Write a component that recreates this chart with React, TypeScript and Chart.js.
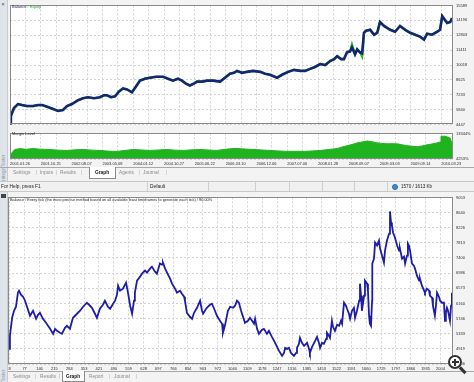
import React, { useEffect, useRef } from "react";
import { Chart, registerables } from "chart.js";
Chart.register(...registerables);

const FONT = "'Liberation Sans', Arial, sans-serif";

// ---------- top (MT5) balance / equity ----------
const topDates = ["2001.01.26", "2001.10.25", "2002.08.07", "2003.05.08", "2004.01.12", "2004.10.27", "2005.06.22", "2006.03.10", "2006.12.06", "2007.07.06", "2008.01.28", "2008.09.07", "2009.03.03", "2009.09.14", "2010.03.23"];
const topDateDeals = [0, 100, 200, 300, 400, 500, 600, 700, 800, 900, 1000, 1100, 1200, 1300, 1400];
const topGridDeals = [0, 50, 100, 150, 200, 250, 300, 350, 400, 450, 500, 550, 600, 650, 700, 750, 800, 850, 900, 950, 1000, 1050, 1100, 1150, 1200, 1250, 1300, 1350, 1400];
const topYTicks = [4447, 5840, 7233, 8625, 10018, 11411, 12803, 14196, 15589];
const topDeal = [0, 3, 13, 26, 39, 55, 75, 91, 104, 123, 140, 156, 172, 185, 201, 221, 237, 253, 273, 292, 305, 315, 328, 341, 354, 367, 380, 396, 409, 422, 438, 455, 474, 497, 513, 529, 545, 558, 571, 584, 597, 607, 623, 640, 659, 682, 698, 714, 727, 737, 753, 769, 789, 812, 828, 844, 867, 883, 903, 922, 942, 958, 974, 990, 1007, 1023, 1039, 1052, 1062, 1075, 1084, 1094, 1104, 1110, 1120, 1127, 1136, 1143, 1149, 1156, 1169, 1182, 1192, 1201, 1214, 1234, 1250, 1266, 1283, 1299, 1315, 1331, 1344, 1354, 1370, 1386, 1396, 1403, 1412, 1419, 1429, 1435];
const topBalance = [4447, 5269, 5999, 6365, 6274, 6182, 6182, 6274, 6274, 6091, 5908, 5726, 5817, 6182, 6365, 6730, 6913, 7004, 6913, 7004, 7187, 7187, 7004, 7096, 7552, 7826, 7735, 7461, 8009, 8557, 8740, 8831, 8922, 8922, 8740, 8557, 8740, 8557, 8283, 8100, 8283, 8465, 8465, 8557, 8557, 8465, 8831, 9196, 9287, 9470, 9287, 9378, 9470, 9378, 9196, 9105, 8831, 9105, 9378, 9561, 9470, 9470, 9653, 9835, 10109, 10018, 10383, 10566, 10840, 10566, 10566, 11205, 11297, 11662, 11023, 11480, 11205, 11114, 13032, 13215, 13306, 12849, 13032, 14037, 13672, 13306, 13123, 13672, 13306, 13032, 12849, 12667, 12393, 12941, 12849, 13123, 13306, 14584, 14219, 13945, 14037, 14402];
const topEquity = [4447, 5269, 5999, 6365, 6274, 6182, 6182, 6274, 6274, 6091, 5908, 5726, 5817, 6182, 6365, 6730, 6913, 7004, 6913, 7004, 7187, 7187, 7004, 7096, 7552, 7826, 7735, 7461, 8009, 8557, 8740, 8831, 8922, 8922, 8740, 8557, 8740, 8557, 8283, 8100, 8283, 8465, 8465, 8557, 8557, 8465, 8831, 9196, 9287, 9470, 9287, 9378, 9470, 9378, 9196, 9105, 8831, 9105, 9378, 9561, 9470, 9470, 9653, 9835, 10109, 10018, 10383, 10566, 10840, 10566, 10566, 11205, 11297, 11950, 11023, 11480, 11205, 10800, 13032, 13215, 13306, 12849, 13032, 14037, 13672, 13306, 13123, 13672, 13306, 13032, 12849, 12667, 12393, 12941, 12849, 13123, 13306, 14584, 14219, 13945, 14037, 14402];

// ---------- margin level ----------
const marginDeal = [0, 10, 16, 32, 52, 75, 97, 130, 156, 185, 211, 237, 266, 292, 318, 347, 373, 399, 429, 455, 481, 510, 536, 562, 591, 617, 643, 672, 698, 724, 737, 763, 792, 818, 844, 873, 899, 925, 955, 981, 1007, 1033, 1062, 1078, 1094, 1110, 1127, 1143, 1159, 1175, 1192, 1208, 1224, 1240, 1257, 1273, 1289, 1305, 1322, 1338, 1354, 1370, 1386, 1396, 1399, 1412, 1422, 1429, 1435];
const marginLevel = [5600, 7000, 7620, 7957, 7700, 7957, 7750, 7620, 7400, 7283, 7500, 7620, 7400, 7283, 7050, 6947, 7300, 7620, 7450, 7283, 7450, 7620, 7400, 7283, 7500, 7620, 7450, 7283, 7700, 7957, 7957, 7800, 7620, 7450, 7283, 7100, 6947, 7000, 6947, 7100, 7283, 7600, 7957, 8500, 8967, 9400, 9977, 10300, 10650, 10400, 9977, 9800, 9640, 9700, 9640, 9300, 8967, 8800, 8630, 8900, 9303, 9600, 9977, 10300, 12334, 12334, 12000, 11660, 9640];
const marginYTicks = [4253, 13344];

// ---------- bottom (MT4) balance ----------
const bottomXTicks = [8, 77, 146, 215, 284, 353, 421, 490, 559, 628, 697, 766, 834, 903, 972, 1040, 1109, 1178, 1247, 1316, 1385, 1453, 1522, 1591, 1660, 1729, 1797, 1866, 1935, 2004];
const bottomYTicks = [4506, 4919, 5333, 5746, 6160, 6573, 6986, 7400, 7813, 8226, 8640, 9053];
const bottomTrades = [5, 9, 19, 28, 37, 46, 51, 60, 70, 79, 88, 102, 116, 130, 139, 148, 162, 176, 195, 209, 218, 227, 241, 250, 264, 273, 287, 301, 315, 334, 348, 366, 380, 389, 403, 412, 426, 440, 449, 463, 473, 487, 496, 505, 510, 519, 533, 542, 547, 556, 566, 575, 584, 588, 598, 612, 621, 635, 644, 658, 667, 681, 690, 704, 714, 718, 728, 737, 751, 760, 774, 783, 797, 806, 816, 820, 829, 843, 853, 862, 876, 890, 899, 904, 918, 927, 936, 945, 959, 968, 982, 992, 996, 1005, 1019, 1029, 1043, 1052, 1061, 1070, 1080, 1089, 1098, 1112, 1121, 1131, 1140, 1145, 1154, 1163, 1177, 1186, 1200, 1209, 1223, 1233, 1247, 1256, 1270, 1279, 1284, 1293, 1302, 1311, 1325, 1335, 1339, 1348, 1353, 1362, 1372, 1381, 1386, 1395, 1399, 1409, 1423, 1432, 1441, 1446, 1455, 1464, 1474, 1478, 1487, 1492, 1501, 1506, 1515, 1525, 1534, 1543, 1548, 1557, 1566, 1571, 1580, 1585, 1594, 1603, 1608, 1617, 1627, 1631, 1636, 1640, 1650, 1654, 1664, 1668, 1673, 1677, 1682, 1687, 1688, 1696, 1701, 1710, 1719, 1724, 1733, 1742, 1747, 1756, 1766, 1770, 1775, 1779, 1784, 1793, 1803, 1812, 1816, 1826, 1835, 1840, 1849, 1853, 1858, 1863, 1872, 1881, 1886, 1895, 1905, 1909, 1918, 1928, 1932, 1941, 1951, 1955, 1965, 1969, 1978, 1983, 1988, 1997, 2002, 2011, 2020, 2025, 2029, 2034, 2039, 2048, 2053, 2057];
const bottomBalance = [4919, 5275, 5767, 5959, 6069, 6452, 6507, 6397, 6342, 6233, 6069, 5822, 5959, 5740, 5850, 5904, 5740, 5630, 5466, 5329, 5466, 5411, 5357, 5329, 5494, 5548, 5466, 5767, 5850, 5959, 6069, 6178, 6096, 6041, 5877, 5767, 6014, 6123, 6233, 6069, 6014, 6151, 6233, 6397, 6644, 6507, 6561, 6671, 6726, 6452, 6096, 5877, 6233, 6452, 6781, 6890, 6972, 7054, 6999, 7109, 7164, 7027, 6972, 7246, 7218, 7273, 7109, 6999, 6835, 6698, 6561, 6452, 6507, 6425, 6342, 6233, 5904, 5795, 5740, 5904, 6041, 6233, 5959, 5877, 6014, 6069, 6123, 6151, 5959, 5822, 5685, 5603, 5357, 5548, 5959, 6069, 6041, 6096, 6233, 6178, 5959, 5795, 5630, 5685, 5767, 5685, 5603, 5740, 5466, 5329, 5439, 5466, 5329, 5411, 5247, 5138, 4973, 4864, 4727, 4809, 4946, 4919, 4946, 4809, 4727, 4809, 4946, 5056, 5220, 5083, 5001, 5056, 5083, 4919, 4809, 4973, 5138, 5247, 5083, 4946, 5083, 5056, 5192, 5357, 5275, 5220, 5685, 5521, 5411, 5576, 5548, 5685, 5603, 6178, 6096, 6014, 5877, 5740, 5959, 6041, 5767, 5959, 6233, 6698, 6370, 5959, 6370, 6781, 6698, 6507, 5822, 5603, 5548, 6233, 7246, 7383, 7821, 7739, 7876, 7657, 7465, 7273, 7602, 7876, 8067, 8670, 8368, 8286, 8095, 7958, 7739, 7602, 7657, 7383, 7438, 7246, 7465, 7794, 7739, 7602, 7246, 7191, 7109, 6917, 6781, 6835, 6644, 6507, 6452, 6561, 6507, 6370, 6315, 6096, 5822, 6096, 6452, 6342, 6233, 6178, 6178, 5685, 5904, 6041, 5959, 5685, 6096, 6452];

const GRID = "#d2d2d2";
const LABEL = "#2a2a2a";

const framePlugin = {
  id: "frame",
  beforeDraw(chart: any) {
    const { ctx, chartArea: a } = chart;
    ctx.save();
    ctx.fillStyle = "#ffffff";
    ctx.fillRect(a.left, a.top, a.right - a.left, a.bottom - a.top);
    ctx.restore();
  },
  afterDraw(chart: any) {
    const { ctx, chartArea: a } = chart;
    ctx.save();
    ctx.strokeStyle = "#8a8a8a";
    ctx.lineWidth = 1;
    ctx.strokeRect(Math.round(a.left) + 0.5, Math.round(a.top) + 0.5, Math.round(a.right - a.left) - 1, Math.round(a.bottom - a.top) - 1);
    ctx.restore();
  },
};

function yRight(min: number, max: number, ticks: number[], fmt: (v: number) => string) {
  return {
    position: "right",
    min,
    max,
    afterBuildTicks: (s: any) => {
      s.ticks = ticks.map((v) => ({ value: v }));
    },
    afterFit: (s: any) => {
      s.width = 21;
    },
    ticks: { font: { size: 4, family: FONT }, color: LABEL, padding: 3, autoSkip: false, callback: (v: any) => fmt(v) },
    grid: { color: GRID, drawTicks: false, lineWidth: 1 },
    border: { display: false, dash: [2, 2] },
  };
}

function topConfig(): any {
  return {
    type: "line",
    data: {
      datasets: [
        { data: topDeal.map((d, i) => ({ x: d, y: topBalance[i] })), borderColor: "#13286e", borderWidth: 2.6, pointRadius: 0, order: 0 },
        { data: topDeal.map((d, i) => ({ x: d, y: topEquity[i] })), borderColor: "#2fb52f", borderWidth: 2.2, pointRadius: 0, order: 1 },
      ],
    },
    options: {
      responsive: false,
      animation: false,
      events: [],
      layout: { padding: { left: 10, top: 4, right: 0, bottom: 2 } },
      plugins: { legend: { display: false }, tooltip: { enabled: false } },
      scales: {
        x: {
          type: "linear",
          min: 0,
          max: 1438,
          afterBuildTicks: (s: any) => {
            s.ticks = topGridDeals.map((v) => ({ value: v }));
          },
          afterFit: (s: any) => {
            s.height = 0;
          },
          ticks: { display: false },
          grid: { color: GRID, drawTicks: false },
          border: { display: false, dash: [2, 2] },
        },
        y: yRight(4447, 15589, topYTicks, (v) => String(v)),
      },
    },
    plugins: [framePlugin],
  };
}

function marginConfig(): any {
  return {
    type: "line",
    data: {
      datasets: [
        {
          data: marginDeal.map((d, i) => ({ x: d, y: marginLevel[i] })),
          borderColor: "#1fb41f",
          backgroundColor: "#1fb41f",
          borderWidth: 1,
          pointRadius: 0,
          fill: "start",
        },
      ],
    },
    options: {
      responsive: false,
      animation: false,
      events: [],
      layout: { padding: { left: 10, top: 4, right: 0, bottom: 0 } },
      plugins: { legend: { display: false }, tooltip: { enabled: false } },
      scales: {
        x: {
          type: "linear",
          min: 0,
          max: 1438,
          afterBuildTicks: (s: any) => {
            s.ticks = topGridDeals.map((v) => ({ value: v }));
          },
          afterFit: (s: any) => {
            s.height = 13;
          },
          ticks: {
            font: { size: 4, family: FONT },
            color: LABEL,
            padding: 2,
            autoSkip: false,
            maxRotation: 0,
            minRotation: 0,
            align: "start",
            callback: (v: any) => {
              const i = topDateDeals.indexOf(v);
              return i >= 0 ? topDates[i] : "";
            },
          },
          grid: { color: GRID, drawTicks: false },
          border: { display: false, dash: [2, 2] },
        },
        y: yRight(4253, 13344, marginYTicks, (v) => v + "%"),
      },
    },
    plugins: [framePlugin],
  };
}

function bottomConfig(): any {
  return {
    type: "line",
    data: {
      datasets: [
        { data: bottomTrades.map((d, i) => ({ x: d, y: bottomBalance[i] })), borderColor: "#1d1da6", borderWidth: 1.8, pointRadius: 0 },
      ],
    },
    options: {
      responsive: false,
      animation: false,
      events: [],
      layout: { padding: { left: 8, top: 5, right: 0, bottom: 0 } },
      plugins: { legend: { display: false }, tooltip: { enabled: false } },
      scales: {
        x: {
          type: "linear",
          min: 0,
          max: 2062,
          afterBuildTicks: (s: any) => {
            s.ticks = bottomXTicks.map((v) => ({ value: v }));
          },
          afterFit: (s: any) => {
            s.height = 10;
          },
          ticks: {
            font: { size: 4, family: FONT },
            color: LABEL,
            padding: 2,
            autoSkip: false,
            maxRotation: 0,
            minRotation: 0,
            callback: (v: any) => String(v),
          },
          grid: { color: GRID, drawTicks: false },
          border: { display: false, dash: [2, 2] },
        },
        y: yRight(4506, 9053, bottomYTicks, (v) => String(v)),
      },
    },
    plugins: [framePlugin],
  };
}

function ChartBox({ x, y, w, h, make }: { x: number; y: number; w: number; h: number; make: () => any }) {
  const ref = useRef<HTMLCanvasElement | null>(null);
  useEffect(() => {
    const c = new Chart(ref.current as HTMLCanvasElement, make());
    return () => c.destroy();
  }, []);
  return (
    <div style={{ position: "absolute", left: x, top: y, width: w, height: h }}>
      <canvas ref={ref} width={w} height={h} style={{ width: w, height: h, display: "block" }} />
    </div>
  );
}

function T({ x, y, size = 4.5, color = "#222", bold = false, children }: any) {
  return (
    <div
      style={{
        position: "absolute",
        left: x,
        top: y - size * 0.6,
        fontSize: size,
        lineHeight: `${size * 1.2}px`,
        color,
        fontWeight: bold ? 700 : 400,
        whiteSpace: "nowrap",
      }}
    >
      {children}
    </div>
  );
}

function Box({ x, y, w, h, style }: any) {
  return <div style={{ position: "absolute", left: x, top: y, width: w, height: h, boxSizing: "border-box", ...style }} />;
}

export default function App() {
  return (
    <div
      style={{
        position: "fixed",
        left: 0,
        top: 0,
        width: 474,
        height: 382,
        overflow: "hidden",
        background: "#f3f3f3",
        fontFamily: FONT,
      }}
    >
      {/* left strip */}
      <Box x={0} y={0} w={8} h={382} style={{ background: "#dfe4eb", borderRight: "1px solid #c4ccd6" }} />
      <T x={1.5} y={4} size={5} color="#333">×</T>
      <div style={{ position: "absolute", left: 0, top: 185, width: 8, height: 0 }}>
        <div style={{ position: "absolute", left: 1, top: 0, transform: "rotate(-90deg)", transformOrigin: "0 0", fontSize: 4.5, color: "#8a96a8", whiteSpace: "nowrap" }}>
          Strategy Tester
        </div>
      </div>
      <div style={{ position: "absolute", left: 0, top: 382, width: 8, height: 0 }}>
        <div style={{ position: "absolute", left: 1, top: 0, transform: "rotate(-90deg)", transformOrigin: "0 0", fontSize: 4.5, color: "#8a96a8", whiteSpace: "nowrap" }}>
          Tester
        </div>
      </div>

      <ChartBox x={0} y={0} w={474} h={130} make={topConfig} />
      <ChartBox x={0} y={128} w={474} h={44} make={marginConfig} />

      <T x={12} y={7} size={4}>
        <span style={{ color: "#1b2a6a" }}>Balance</span> <span style={{ color: "#2a9a2a" }}>/ Equity</span>
      </T>
      <T x={12} y={134.5} size={4} color="#222">Margin Level</T>

      {/* top tabs */}
      <Box x={0} y={167} w={474} h={1} style={{ background: "#a8a8a8" }} />
      <T x={13} y={173} size={4.8} color="#8a8a8a">Settings</T>
      <T x={36} y={173} size={4.8} color="#b0b0b0">|</T>
      <T x={40} y={173} size={4.8} color="#8a8a8a">Inputs</T>
      <T x={56} y={173} size={4.8} color="#b0b0b0">|</T>
      <T x={60} y={173} size={4.8} color="#8a8a8a">Results</T>
      <T x={81} y={173} size={4.8} color="#b0b0b0">|</T>
      <Box x={89} y={167} w={27} h={12} style={{ background: "#ffffff", border: "1px solid #8c8c8c", borderTop: "none" }} />
      <T x={95} y={173} size={4.8} color="#111" bold>Graph</T>
      <T x={119} y={173} size={4.8} color="#8a8a8a">Agents</T>
      <T x={139} y={173} size={4.8} color="#b0b0b0">|</T>
      <T x={143} y={173} size={4.8} color="#8a8a8a">Journal</T>
      <T x={166} y={173} size={4.8} color="#b0b0b0">|</T>

      {/* status bar */}
      <Box x={0} y={181} w={474} h={11} style={{ background: "#f0f0f0", borderTop: "1px solid #c8c8c8", borderBottom: "1px solid #c8c8c8" }} />
      {[147, 208, 255, 289, 322, 354, 387].map((sx) => (
        <Box key={sx} x={sx} y={182} w={1} h={9} style={{ background: "#cfcfcf" }} />
      ))}
      <T x={1} y={187} size={4.8} color="#222">For Help, press F1</T>
      <T x={150} y={187} size={4.8} color="#222">Default</T>
      <Box x={392} y={184} w={6} h={6} style={{ borderRadius: 3, background: "#3a8fd0", border: "1px solid #2a6aa0" }} />
      <T x={401} y={187} size={4.6} color="#222">1570 / 1613 Kb</T>

      {/* bottom window */}
      <Box x={1} y={194} w={5} h={4} style={{ background: "#444" }} />
      <ChartBox x={0} y={192} w={474} h={182} make={bottomConfig} />
      <T x={10} y={200} size={3.9} color="#222">
        Balance / Every tick (the most precise method based on all available least timeframes to generate each tick) / 90.00%
      </T>

      {/* bottom tabs */}
      <Box x={8} y={371} w={466} h={1} style={{ background: "#a8a8a8" }} />
      <T x={13} y={377} size={4.8} color="#8a8a8a">Settings</T>
      <T x={35} y={377} size={4.8} color="#b0b0b0">|</T>
      <T x={40} y={377} size={4.8} color="#8a8a8a">Results</T>
      <T x={59} y={377} size={4.8} color="#b0b0b0">|</T>
      <Box x={62} y={371} w={23} h={11} style={{ background: "#ffffff", border: "1px solid #8c8c8c", borderTop: "none" }} />
      <T x={66} y={377} size={4.8} color="#111" bold>Graph</T>
      <T x={89} y={377} size={4.8} color="#8a8a8a">Report</T>
      <T x={109} y={377} size={4.8} color="#b0b0b0">|</T>
      <T x={114} y={377} size={4.8} color="#8a8a8a">Journal</T>
      <T x={136} y={377} size={4.8} color="#b0b0b0">|</T>

      {/* magnifier overlay */}
      <div style={{ position: "absolute", left: 460, top: 366, width: 8, height: 2.5, background: "#333", transform: "rotate(45deg)", transformOrigin: "0 50%" }} />
      <div style={{ position: "absolute", left: 448, top: 355, width: 14, height: 14, borderRadius: 7, border: "2px solid #333", background: "#ffffff", boxSizing: "border-box" }} />
      <Box x={451.5} y={361} w={7} h={2} style={{ background: "#333" }} />
      <Box x={454} y={358.5} w={2} h={7} style={{ background: "#333" }} />
    </div>
  );
}
